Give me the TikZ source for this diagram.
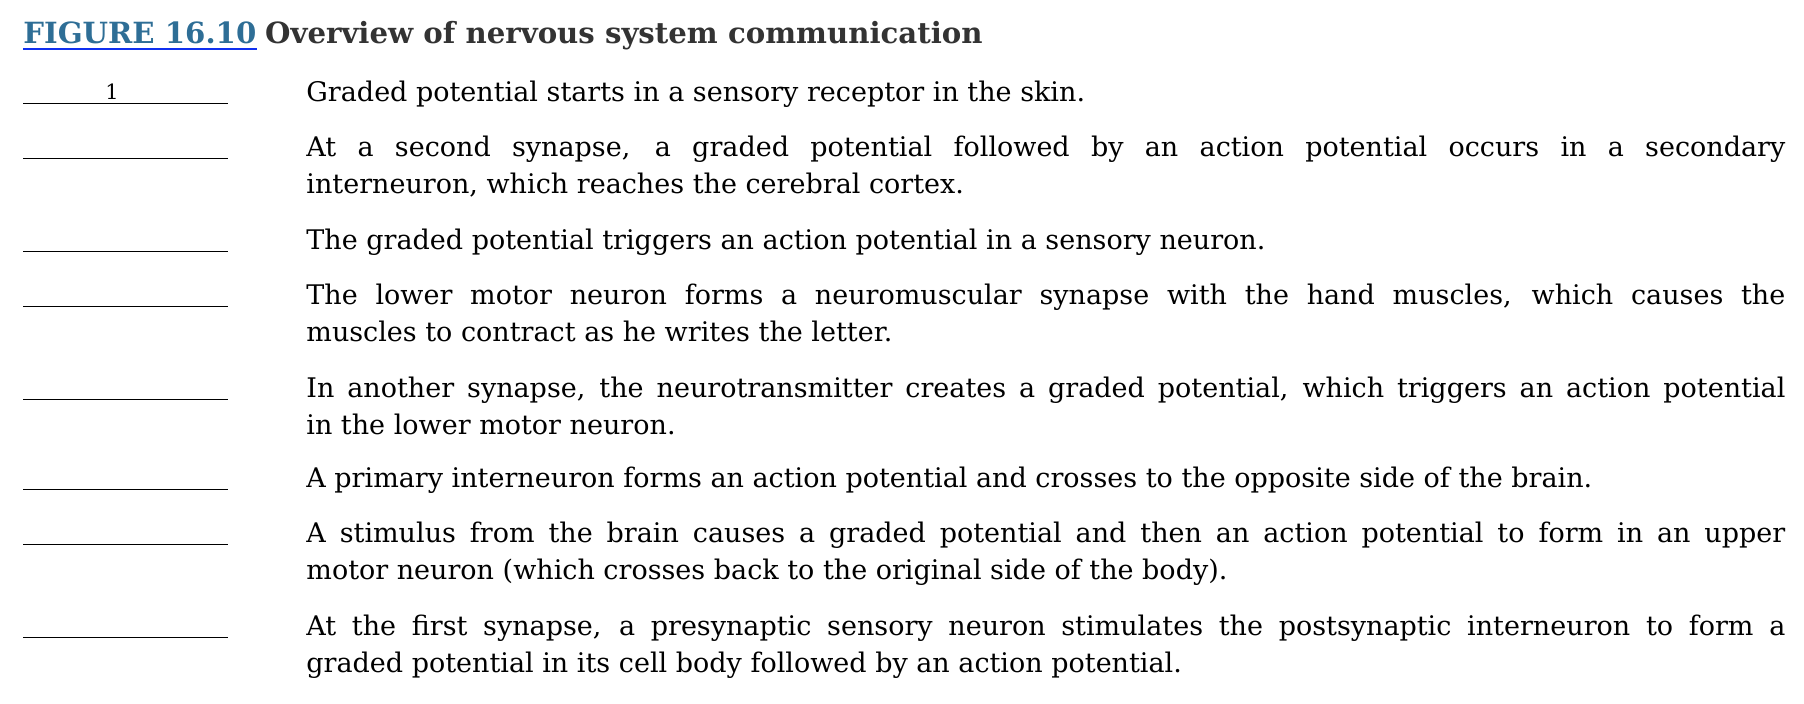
\documentclass[tikz,border=0pt]{standalone}
\usepackage{fontspec}
\setmainfont{DejaVu Serif}
\definecolor{figblue}{HTML}{2E6E96}
\definecolor{linkblue}{HTML}{1030F0}
\definecolor{ttl}{HTML}{333333}
\begin{document}
\begin{tikzpicture}[x=0.5pt,y=-0.5pt,
  item/.style={anchor=base west,inner sep=0pt,text width=739.5pt,align=justify,font=\fontsize{13.5}{18.5}\selectfont},
  blank/.style={line width=0.5pt}]
\useasboundingbox (0,0) rectangle (1804,704);
\node[anchor=base west,inner sep=0pt,font=\fontsize{14.6}{20}\selectfont\bfseries] (fig) at (23,44)
  {\textcolor{figblue}{FIGURE 16.10}};
\node[anchor=base west,inner sep=0pt,font=\fontsize{14.6}{20}\selectfont\bfseries,text=ttl] (title) at ([xshift=4pt]fig.base east)
  {Overview of nervous system communication};
\draw[linkblue,line width=1pt] ([yshift=-2.5pt]fig.base west) -- ([yshift=-2.5pt]fig.base east);
\foreach \y/\t [count=\i] in {
 102/{Graded potential starts in a sensory receptor in the skin.},
 157/{At a second synapse, a graded potential followed by an action potential occurs in a secondary\linebreak interneuron, which reaches the cerebral cortex.},
 250/{The graded potential triggers an action potential in a sensory neuron.},
 305/{The lower motor neuron forms a neuromuscular synapse with the hand muscles, which causes the\linebreak muscles to contract as he writes the letter.},
 398/{In another synapse, the neurotransmitter creates a graded potential, which triggers an action potential\linebreak in the lower motor neuron.},
 488/{A primary interneuron forms an action potential and crosses to the opposite side of the brain.},
 543/{A stimulus from the brain causes a graded potential and then an action potential to form in an upper\linebreak motor neuron (which crosses back to the original side of the body).},
 636/{At the first synapse, a presynaptic sensory neuron stimulates the postsynaptic interneuron to form a\linebreak graded potential in its cell body followed by an action potential.}}
{
  \node[item] (t\i) at (306,\y) {\t};
  \coordinate (a\i) at (23,\y+2);
  \coordinate (b\i) at (228,\y+2);
  \draw[blank] (a\i) -- (b\i);
}
\node[anchor=base,inner sep=0pt,font=\fontsize{10.5}{12}\selectfont] (n1) at (112,100) {1};
\end{tikzpicture}
\end{document}
